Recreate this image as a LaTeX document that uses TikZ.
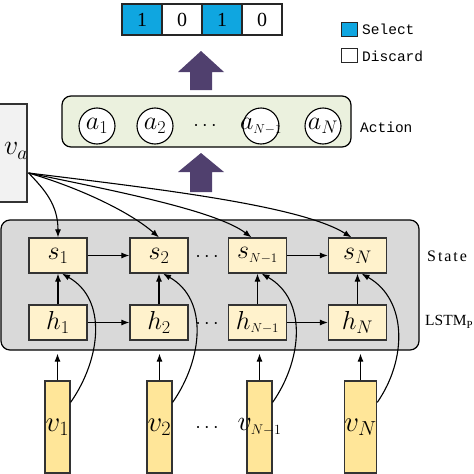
\RequirePackage{fix-cm}
\documentclass[tikz,border=0pt]{standalone}
\usepackage{fontspec}
\setmainfont{Liberation Serif}
\setmonofont{Liberation Mono}
\newfontfamily\widefont[LetterSpace=12]{Liberation Serif}
\usetikzlibrary{calc,arrows.meta}
\definecolor{selblue}{HTML}{0FA6E0}
\definecolor{actfill}{HTML}{EBF1DE}
\definecolor{lstmfill}{HTML}{D9D9D9}
\definecolor{stfill}{HTML}{FFF2CC}
\definecolor{vfill}{HTML}{FFE699}
\definecolor{bigpurple}{HTML}{50406E}
\definecolor{vafill}{HTML}{F2F2F2}
\begin{document}
\begin{tikzpicture}[x=1pt,y=-1pt,
  cell/.style={draw=black!85, line width=1.2pt, minimum width=40pt, minimum height=31pt, inner sep=0pt, font=\fontsize{20}{20}\selectfont},
  legbox/.style={draw=black!85, line width=1pt, minimum width=16pt, minimum height=14pt, inner sep=0pt},
  legtext/.style={anchor=west, inner sep=0pt, font=\ttfamily\fontsize{14.5}{14.5}\selectfont},
  actcirc/.style={circle, draw=black, line width=1.1pt, fill=white, minimum size=36pt, inner sep=0pt, font=\fontsize{26}{26}\selectfont},
  stbox/.style={draw=black!80, fill=stfill, line width=1.2pt, minimum width=58pt, minimum height=35pt, inner sep=0pt, font=\fontsize{26}{26}\selectfont},
  vbar/.style={draw=black!80, fill=vfill, line width=1.2pt, minimum width=25pt, minimum height=92pt, inner sep=0pt, font=\fontsize{29}{29}\selectfont},
  arr/.style={-{Latex[length=8pt,width=6pt]}, line width=1.1pt, black},
  bigarr/.style={fill=bigpurple},
  dots/.style={inner sep=0pt, font=\fontsize{20}{20}\selectfont}
]
\useasboundingbox (0,0) rectangle (474,474);

% bit vector
\node[cell, fill=selblue] (b1) at (142,19.5) {1};
\node[cell, fill=white]   (b2) at (182,19.5) {0};
\node[cell, fill=selblue] (b3) at (222,19.5) {1};
\node[cell, fill=white]   (b4) at (262,19.5) {0};

% legend
\node[legbox, fill=selblue] (ls) at (349,29) {};
\node[legtext] (lst) at (362,29) {Select};
\node[legbox, fill=white] (ld) at (349,55) {};
\node[legtext] (ldt) at (362,56) {Discard};

% big arrows
\fill[bigarr] (201,51) -- (224,72) -- (212,72) -- (212,90) -- (190,90) -- (190,72) -- (178,72) -- cycle;
\fill[bigarr] (201,153) -- (224,172) -- (212,172) -- (212,192) -- (190,192) -- (190,172) -- (178,172) -- cycle;

% action box
\node[draw=black, line width=1.2pt, fill=actfill, rounded corners=9pt, minimum width=289pt, minimum height=51pt, inner sep=0pt] (actbox) at (206.5,121.5) {};
\node[actcirc] (a1) at (97,126) {$a_1$};
\node[actcirc] (a2) at (155,126) {$a_2$};
\node[dots] (ad) at (205,126) {$\cdots$};
\node[actcirc, label={[inner sep=0pt, font=\fontsize{26}{26}\selectfont]center:$a_{\scriptscriptstyle N-1}$}] (a3) at (261,126) {};
\node[actcirc] (a4) at (323,126) {$a_N$};
\node[legtext] (actlab) at (360,127) {Action};

% v_a box
\node[draw=black!80, fill=vafill, line width=1.2pt, minimum width=34pt, minimum height=98pt, inner sep=0pt] (va) at (10,153) {};
\node[inner sep=0pt, font=\fontsize{28}{28}\selectfont] (valab) at (16,151) {$v_a$};
\coordinate (vaout) at ($(va.east)+(1,20)$);

% LSTM container
\node[draw=black, line width=1.2pt, fill=lstmfill, rounded corners=9pt, minimum width=418pt, minimum height=130pt, inner sep=0pt] (lstm) at (210,285) {};

% state boxes
\node[stbox] (s1) at (58,255.5) {$s_1$};
\node[stbox] (s2) at (159,255.5) {$s_2$};
\node[stbox] (s3) at (257.5,255.5) {$s_{\scriptscriptstyle N-1}$};
\node[stbox] (s4) at (357.5,255.5) {$s_N$};
\node[dots] (sd) at (207,257) {$\cdots$};

% hidden boxes
\node[stbox] (h1) at (58,322.5) {$h_1$};
\node[stbox] (h2) at (159,322.5) {$h_2$};
\node[stbox] (h3) at (257.5,322.5) {$h_{\scriptscriptstyle N-1}$};
\node[stbox] (h4) at (357.5,322.5) {$h_N$};
\node[dots] (hd) at (207,324) {$\cdots$};

\node[anchor=west, inner sep=0pt, font=\widefont\fontsize{16}{16}\selectfont] (statelab) at (427,256) {State};
\node[anchor=west, inner sep=0pt, font=\fontsize{15.5}{15.5}\selectfont] (lstmlab) at (425,322) {LSTM$_{\mathrm{P}}$};

% v bars
\node[vbar] (v1) at (57.5,427) {$v_1$};
\node[vbar] (v2) at (159.5,427) {$v_2$};
\node[vbar, label={[inner sep=0pt, font=\fontsize{28}{28}\selectfont]center:$v_{\scriptscriptstyle N-1}$}] (v3) at (259.5,427) {};
\node[vbar] (v4) at (360.5,427) {$v_N$};
\node[dots] (vd) at (207,428) {$\cdots$};

% horizontal arrows
\draw[arr] (s1) -- (s2);
\draw[arr] (s3) -- (s4);
\draw[arr] (h1) -- (h2);
\draw[arr] (h3) -- (h4);

% vertical arrows h -> s, v -> LSTM, skip curves v -> s
\foreach \i in {1,2,3,4} {
  \draw[arr] (h\i.north) -- (s\i.south);
  \draw[arr] (v\i.north) -- ([yshift=-3pt]v\i.north |- lstm.south);
  \draw[arr] ($(v\i.north east)+(0,22)$) .. controls +(30,-43) and +(46,26) .. ($(s\i.south)+(4,0)$);
}

% v_a arrows
\draw[arr] (vaout) .. controls (45,190) and (58,205) .. (s1.north);
\draw[arr] (vaout) .. controls (80,188) and (130,212) .. (s2.north);
\draw[arr] (vaout) .. controls (110,190) and (215,210) .. ($(s3.north)+(-6,0)$);
\draw[arr] (vaout) .. controls (150,188) and (300,205) .. ($(s4.north)+(-6,0)$);
\end{tikzpicture}
\end{document}
